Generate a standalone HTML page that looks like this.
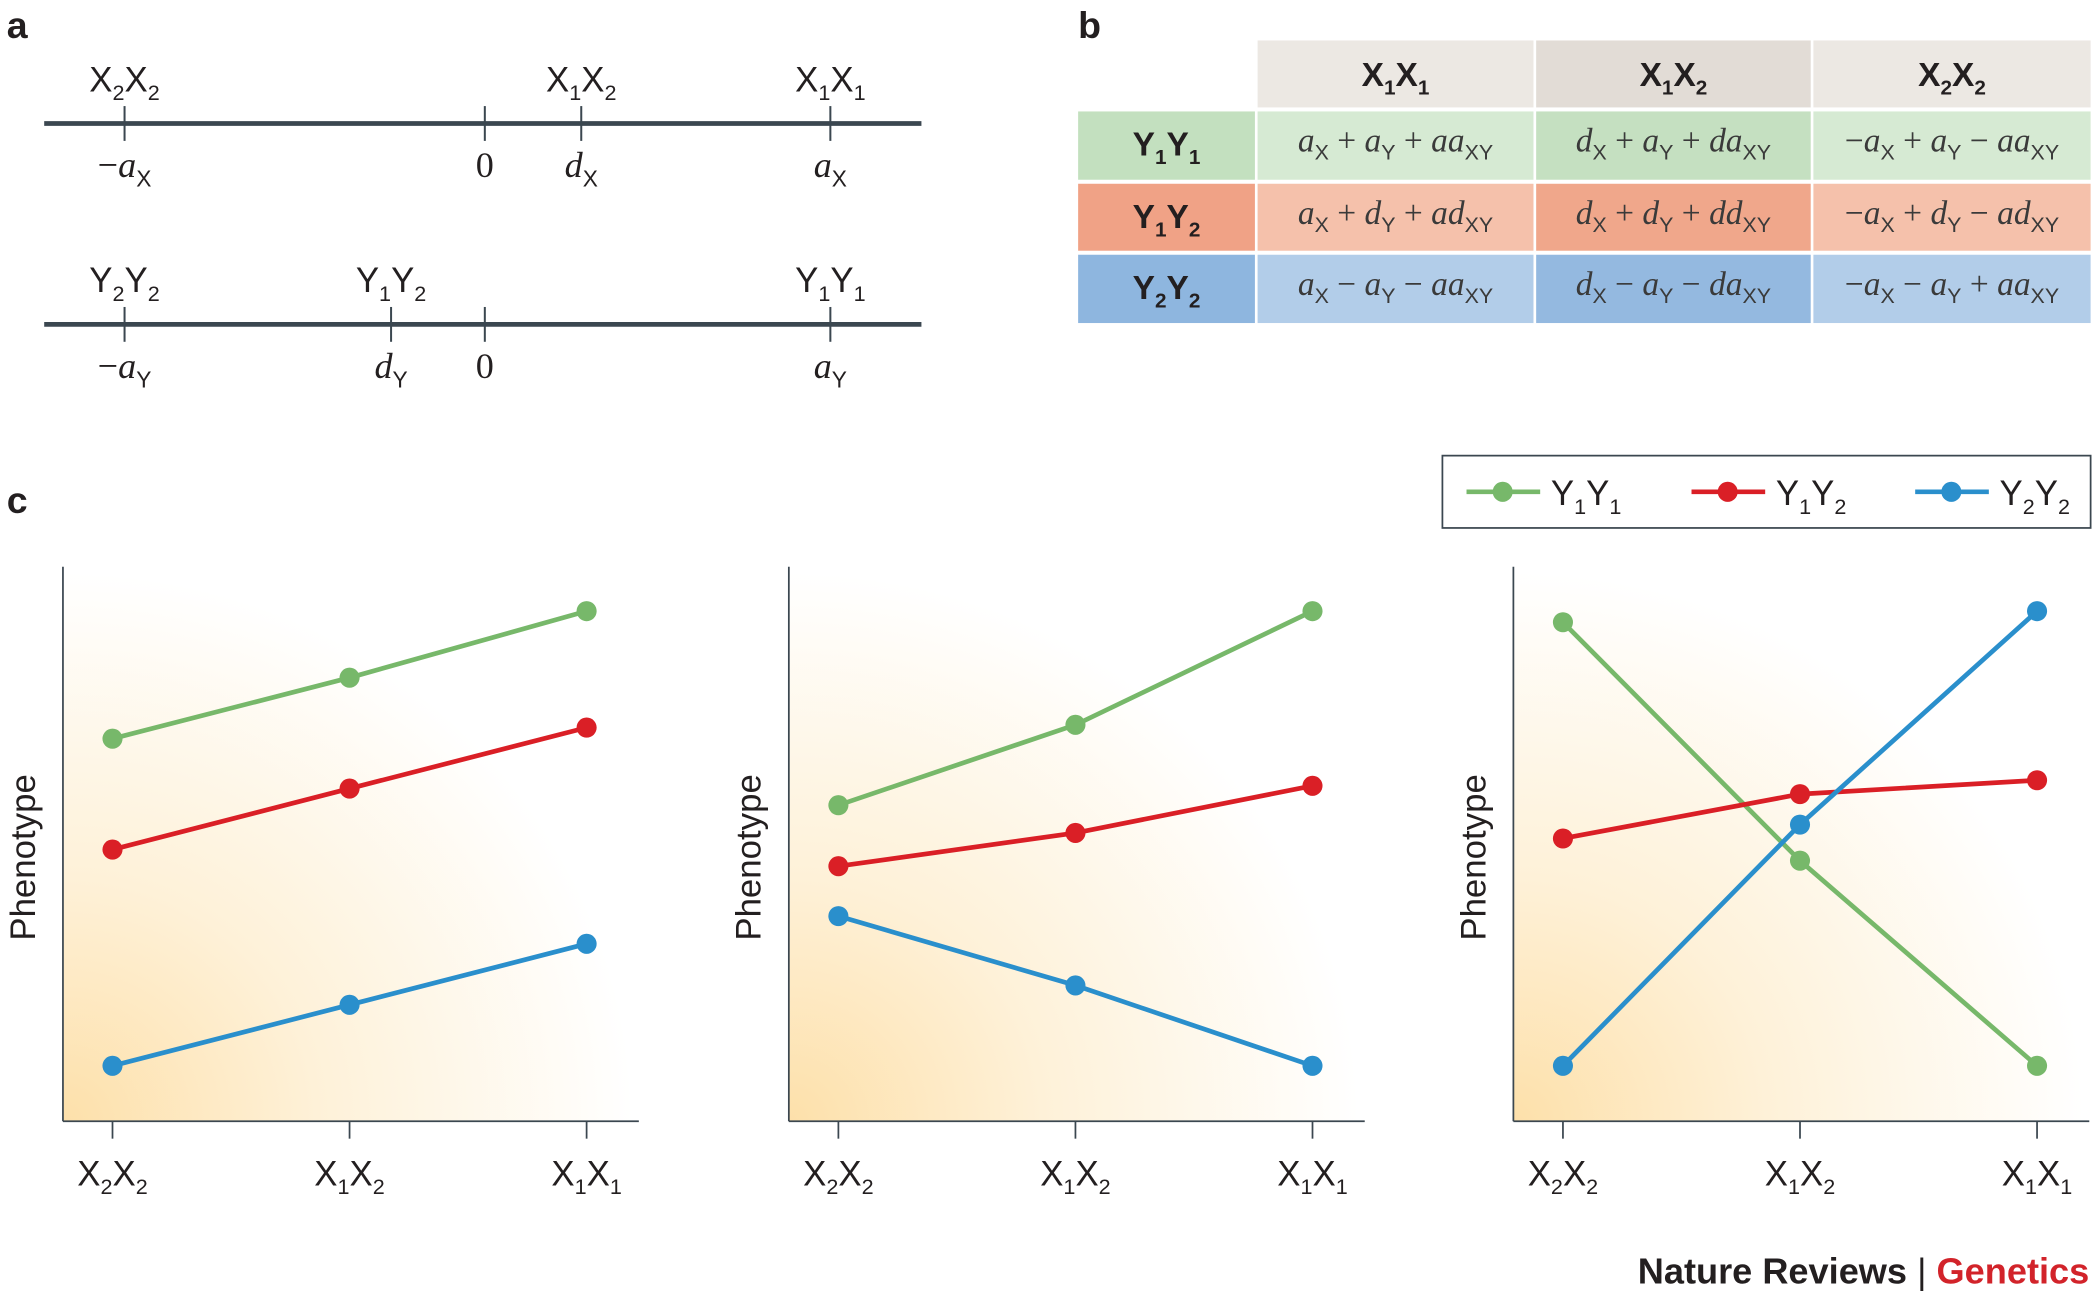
<!DOCTYPE html>
<html><head><meta charset="utf-8"><style>
html,body{margin:0;padding:0;background:#fff}
svg{display:block;font-family:"Liberation Sans",sans-serif}
</style></head><body>
<svg id="fig" width="2100" height="1301" viewBox="0 0 1568 971" xmlns="http://www.w3.org/2000/svg">
<defs>
<radialGradient id="bg" cx="0" cy="1" r="1.1" fx="0" fy="1">
<stop offset="0" stop-color="#fde0aa"/>
<stop offset="0.4" stop-color="#fef1d8"/>
<stop offset="0.9" stop-color="#ffffff"/>
</radialGradient>
</defs>
<g id="panelA"></g>
<g id="panelB"></g>
<g id="panelC"></g>
<text x="1560" y="958" text-anchor="end" font-size="27" font-weight="bold" fill="#231f20">Nature Reviews <tspan font-weight="normal">|</tspan> <tspan fill="#d2232a">Genetics</tspan></text>
</svg>
<script>
// ---- chart data ----
const categories = ["X2X2", "X1X2", "X1X1"];
const seriesNames = ["Y1Y1", "Y1Y2", "Y2Y2"];
const seriesColors = ["#77b86a", "#da1f26", "#2a8fcc"];
const panel1Green = [69, 80, 92];
const panel1Red = [49, 60, 71];
const panel1Blue = [10, 21, 32];
const panel2Green = [57, 71.5, 92];
const panel2Red = [46, 52, 60.5];
const panel2Blue = [37, 24.5, 10];
const panel3Green = [90, 47, 10];
const panel3Red = [51, 59, 61.5];
const panel3Blue = [10, 53.5, 92];

const NS = "http://www.w3.org/2000/svg";
function mk(tag, attrs, parent) {
  const e = document.createElementNS(NS, tag);
  for (const k in attrs) e.setAttribute(k, attrs[k]);
  parent.appendChild(e);
  return e;
}
function geno(parent, x, y, str, size, anchor, weight) {
  const t = mk("text", {x: x, y: y, "font-size": size, "text-anchor": anchor || "middle", fill: "#231f20"}, parent);
  if (weight) t.setAttribute("font-weight", weight);
  const sub = size * 0.62, dy = size * 0.25;
  t.innerHTML = `${str[0]}<tspan font-size="${sub}" dy="${dy}">${str[1]}</tspan><tspan dy="${-dy}">${str[2]}</tspan><tspan font-size="${sub}" dy="${dy}">${str[3]}</tspan>`;
  return t;
}
function mathLabel(parent, x, y, html, size) {
  const t = mk("text", {x: x, y: y, "font-size": size, "text-anchor": "middle", fill: "#231f20", "font-family": "Liberation Serif, serif"}, parent);
  t.innerHTML = html;
  return t;
}

// ---- panel a ----
const A = document.getElementById("panelA");
const pa = mk("text", {x: 5, y: 28, "font-size": 28, "font-weight": "bold", fill: "#231f20"}, A);
pa.textContent = "a";


function scaleLine(y, ticks, above, below, name) {
  const g = mk("g", {}, A);
  
  
  mk("line", {x1: 33, x2: 688, y1: y, y2: y, stroke: "#3b4750", "stroke-width": 3.5}, g);
  ticks.forEach(x => mk("line", {x1: x, x2: x, y1: y - 13, y2: y + 13, stroke: "#3b4750", "stroke-width": 1.5}, g));
  above.forEach(a => geno(g, a[0], y - 24, a[1], 26));
  below.forEach(b => mathLabel(g, b[0], y + 40, b[1], 27));
}
const sub = (s) => `<tspan font-family="Liberation Sans" font-size="17" dy="7">${s}</tspan><tspan dy="-7">&#8203;</tspan>`;
scaleLine(92, [93, 362, 434, 620], [[93, "X2X2"], [434, "X1X2"], [620, "X1X1"]],
  [[93, "−<tspan font-style='italic'>a</tspan>" + sub("X")], [362, "0"], [434, "<tspan font-style='italic'>d</tspan>" + sub("X")], [620, "<tspan font-style='italic'>a</tspan>" + sub("X")]], "x-genotype-scale");
scaleLine(242, [93, 292, 362, 620], [[93, "Y2Y2"], [292, "Y1Y2"], [620, "Y1Y1"]],
  [[93, "−<tspan font-style='italic'>a</tspan>" + sub("Y")], [292, "<tspan font-style='italic'>d</tspan>" + sub("Y")], [362, "0"], [620, "<tspan font-style='italic'>a</tspan>" + sub("Y")]], "y-genotype-scale");

// ---- panel b ----
const B = document.getElementById("panelB");
const pb = mk("text", {x: 805, y: 28, "font-size": 28, "font-weight": "bold", fill: "#231f20"}, B);
pb.textContent = "b";


const colX = [939, 1147, 1354], colW = [206, 205, 207];
const rowY = [83, 137, 190], rowH = [51, 50, 51];
const headerFill = ["#ece8e3", "#e2dcd6", "#ece8e3"];
const labelFill = ["#c3e0bf", "#f0a286", "#8eb6df"];
const cellFill = [["#d6ead3", "#c5e0c1", "#d6ead3"], ["#f5c1ab", "#f0a78b", "#f5c1ab"], ["#b2cde9", "#94b9e0", "#b2cde9"]];
const heads = ["X1X1", "X1X2", "X2X2"];
const rowHeads = ["Y1Y1", "Y1Y2", "Y2Y2"];
const I = (s) => `<tspan font-style="italic">${s}</tspan>`;
const S = (s) => `<tspan font-family="Liberation Sans" font-size="16" dy="6">${s}</tspan><tspan dy="-6">&#8203;</tspan>`;
const formulas = [
  [`${I("a")}${S("X")} + ${I("a")}${S("Y")} + ${I("aa")}${S("XY")}`, `${I("d")}${S("X")} + ${I("a")}${S("Y")} + ${I("da")}${S("XY")}`, `−${I("a")}${S("X")} + ${I("a")}${S("Y")} − ${I("aa")}${S("XY")}`],
  [`${I("a")}${S("X")} + ${I("d")}${S("Y")} + ${I("ad")}${S("XY")}`, `${I("d")}${S("X")} + ${I("d")}${S("Y")} + ${I("dd")}${S("XY")}`, `−${I("a")}${S("X")} + ${I("d")}${S("Y")} − ${I("ad")}${S("XY")}`],
  [`${I("a")}${S("X")} − ${I("a")}${S("Y")} − ${I("aa")}${S("XY")}`, `${I("d")}${S("X")} − ${I("a")}${S("Y")} − ${I("da")}${S("XY")}`, `−${I("a")}${S("X")} − ${I("a")}${S("Y")} + ${I("aa")}${S("XY")}`]
];
for (let c = 0; c < 3; c++) {
  const r = mk("rect", {x: colX[c], y: 30, width: colW[c], height: 50, fill: headerFill[c]}, B);
  
  
  geno(B, colX[c] + colW[c] / 2, 64, heads[c], 25, "middle", "bold");
}
for (let r = 0; r < 3; r++) {
  const lr = mk("rect", {x: 805, y: rowY[r], width: 132, height: rowH[r], fill: labelFill[r]}, B);
  
  
  geno(B, 871, rowY[r] + 33, rowHeads[r], 25, "middle", "bold");
  for (let c = 0; c < 3; c++) {
    const cr = mk("rect", {x: colX[c], y: rowY[r], width: colW[c], height: rowH[r], fill: cellFill[r][c]}, B);
    
    
    const t = mk("text", {x: colX[c] + colW[c] / 2, y: rowY[r] + 30, "font-size": 25, "text-anchor": "middle", fill: "#3a3a3a", "font-family": "Liberation Serif, serif"}, B);
    t.innerHTML = formulas[r][c];
    
    
  }
}

// ---- panel c ----
const C = document.getElementById("panelC");
const pc = mk("text", {x: 5, y: 383, "font-size": 28, "font-weight": "bold", fill: "#231f20"}, C);
pc.textContent = "c";


const lg = mk("g", {}, C);


mk("rect", {x: 1077, y: 340, width: 484, height: 54, fill: "#fff", stroke: "#3b4750", "stroke-width": 1.3}, lg);
const legX = [1095, 1263, 1430];
seriesNames.forEach((n, i) => {
  const e = mk("g", {}, lg);
  
  
  mk("line", {x1: legX[i], x2: legX[i] + 55, y1: 367, y2: 367, stroke: seriesColors[i], "stroke-width": 3.5}, e);
  mk("circle", {cx: legX[i] + 27, cy: 367, r: 7.5, fill: seriesColors[i]}, e);
  geno(e, legX[i] + 63, 377, n, 26, "start");
});

const panels = [
  {ax: 47, data: [panel1Green, panel1Red, panel1Blue]},
  {ax: 589, data: [panel2Green, panel2Red, panel2Blue]},
  {ax: 1130, data: [panel3Green, panel3Red, panel3Blue]}
];
const yTop = 423, yBot = 837;
function yScale(v) { return yBot - v / 100 * (yBot - yTop); }
panels.forEach((p, pi) => {
  const g = mk("g", {}, C);
  
  
  const x0 = p.ax + 37, step = 177;
  const xScale = (i) => x0 + i * step;
  const bg = mk("rect", {x: p.ax, y: yTop, width: 430, height: yBot - yTop, fill: "url(#bg)"}, g);
  
  
  const ya = mk("line", {x1: p.ax, x2: p.ax, y1: yTop, y2: yBot, stroke: "#3b4750", "stroke-width": 1.3}, g);
  
  
  const xa = mk("line", {x1: p.ax, x2: p.ax + 430, y1: yBot, y2: yBot, stroke: "#3b4750", "stroke-width": 1.3}, g);
  
  
  categories.forEach((cat, i) => {
    mk("line", {x1: xScale(i), x2: xScale(i), y1: yBot, y2: yBot + 13, stroke: "#3b4750", "stroke-width": 1.3}, g);
    const tl = geno(g, xScale(i), 885, cat, 26);
    
    
  });
  const yt = mk("text", {x: 0, y: 0, "font-size": 26, "text-anchor": "middle", fill: "#231f20", transform: `translate(${p.ax - 21},640) rotate(-90)`}, g);
  yt.textContent = "Phenotype";
  
  
  p.data.forEach((vals, si) => {
    const pts = vals.map((v, i) => xScale(i) + "," + yScale(v)).join(" ");
    const pl = mk("polyline", {points: pts, fill: "none", stroke: seriesColors[si], "stroke-width": 3.5}, g);
    
    
    vals.forEach((v, i) => {
      const c = mk("circle", {cx: xScale(i), cy: yScale(v), r: 7.5, fill: seriesColors[si]}, g);
      
      
    });
  });
});
</script>
</body></html>
